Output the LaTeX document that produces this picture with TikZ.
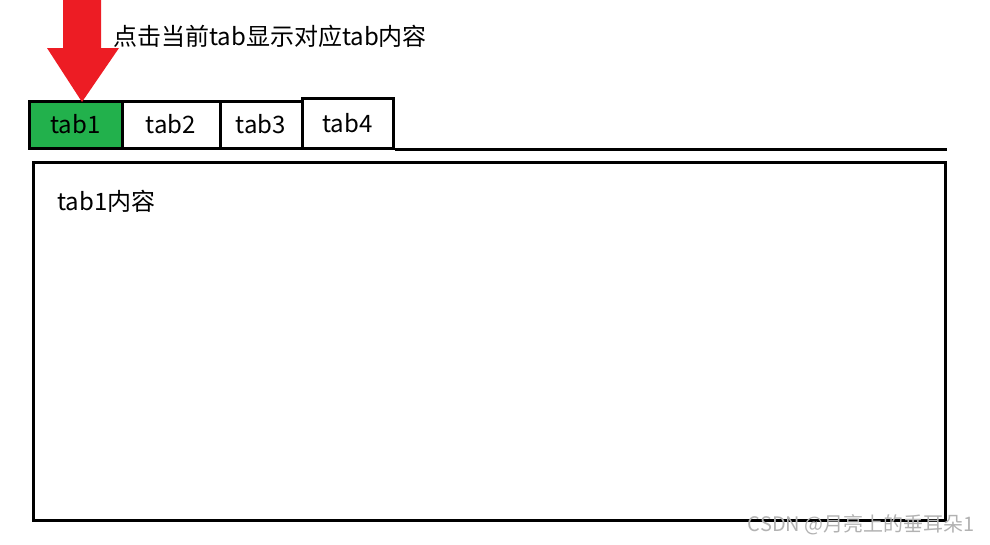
\documentclass[tikz,border=0pt]{standalone}
\usepackage{fontspec}
\setmainfont{Noto Sans CJK SC}
\usepackage{xcolor}
\definecolor{tabgreen}{HTML}{22B14C}
\definecolor{arrowred}{HTML}{ED1C24}

\begin{document}
\begin{tikzpicture}[x=1pt,y=-1pt,
  tabbox/.style={draw, line width=3pt, inner sep=0pt, minimum height=47pt, font=\fontsize{24}{28}\selectfont},
  plain/.style={inner sep=0pt, font=\fontsize{24}{28}\selectfont}]
\useasboundingbox (0,0) rectangle (990,544);

\node[tabbox, fill=tabgreen, minimum width=93pt] (tab1) at (75.5,124.5) {tab1};
\node[tabbox, minimum width=98pt] (tab2) at (171,124.5) {tab2};
\node[tabbox, minimum width=82pt] (tab3) at (261,124.5) {tab3};
\node[tabbox, minimum width=91pt, minimum height=50pt] (tab4) at (347.5,123) {tab4};
\coordinate (lineend) at (947,147);
\draw[line width=3pt] (tab4.south east) -- (tab4.south east -| lineend);

\node[draw, line width=3pt, minimum width=912pt, minimum height=358pt] (panel) at (489,341) {};
\node[plain, anchor=west] (content) at (57,201) {tab1内容};

\node[plain, anchor=west] (hint) at (113,36) {点击当前tab显示对应tab内容};

\fill[arrowred] (63,0) -- (101,0) -- (101,48) -- (119,48) -- (82,102) -- (47,48) -- (63,48) -- cycle;

\node[inner sep=0pt, anchor=east, color=gray!60, font=\fontsize{20}{24}\selectfont] (credit) at (975,525) {CSDN @月亮上的垂耳朵1};
\end{tikzpicture}
\end{document}
